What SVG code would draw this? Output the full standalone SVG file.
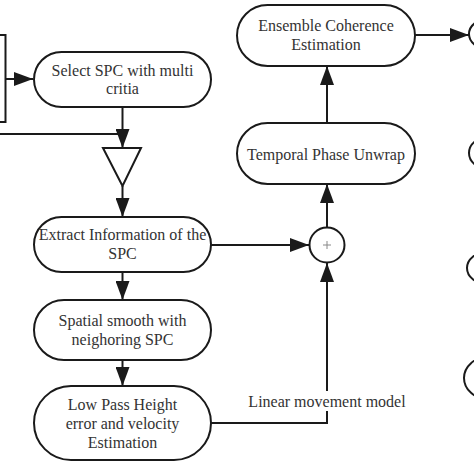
<svg xmlns="http://www.w3.org/2000/svg" width="474" height="474" viewBox="0 0 474 474">
<style>
.n{fill:#fff;stroke:#1a1a1a;stroke-width:2}
.c{fill:none;stroke:#1a1a1a;stroke-width:2}
.t{font-family:"Liberation Serif","Times New Roman",serif;font-size:16px;fill:#333;text-anchor:middle}
</style>
<defs>
<marker id="a" markerUnits="userSpaceOnUse" markerWidth="19" markerHeight="14" refX="19" refY="7" orient="auto">
<path d="M0,0 L19,7 L0,14 z" fill="#1a1a1a"/>
</marker>
</defs>
<rect width="474" height="474" fill="#fff"/>
<g id="connectors">
<path class="c" d="M0,35 H5.5 V122 H0"/>
<path class="c" d="M5.5,79 H33" marker-end="url(#a)"/>
<path class="c" d="M0,134 H122.5"/>
<path class="c" d="M122.5,107 V148" marker-end="url(#a)"/>
<path class="c" d="M122.5,186 V217" marker-end="url(#a)"/>
<path class="c" d="M122.5,272 V300" marker-end="url(#a)"/>
<path class="c" d="M122.5,360 V386" marker-end="url(#a)"/>
<path class="c" d="M211,245 H309" marker-end="url(#a)"/>
<path class="c" d="M211,423 H327 V411"/>
<path class="c" d="M327,391 V263" marker-end="url(#a)"/>
<path class="c" d="M327,227 V184" marker-end="url(#a)"/>
<path class="c" d="M327,123 V66" marker-end="url(#a)"/>
<path class="c" d="M415,35 H469" marker-end="url(#a)"/>
<text class="t" x="327" y="407">Linear movement model</text>
</g>
<g id="select">
<rect class="n" x="34" y="52" width="177" height="55" rx="27.5"/>
<text class="t" x="122.5" y="76">Select SPC with multi</text>
<text class="t" x="122.5" y="94">critia</text>
</g>
<g id="triangle">
<polygon class="n" points="103,148 141,148 122.5,186"/>
</g>
<g id="extract">
<rect class="n" x="34" y="217" width="177" height="55" rx="27.5"/>
<text class="t" x="122.5" y="240">Extract Information of the</text>
<text class="t" x="122.5" y="259">SPC</text>
</g>
<g id="spatial">
<rect class="n" x="34" y="300" width="177" height="60" rx="30"/>
<text class="t" x="122.5" y="326">Spatial smooth with</text>
<text class="t" x="122.5" y="345">neighoring SPC</text>
</g>
<g id="lowpass">
<rect class="n" x="34" y="386" width="177" height="74" rx="37"/>
<text class="t" x="122.5" y="410">Low Pass Height</text>
<text class="t" x="122.5" y="429">error and velocity</text>
<text class="t" x="122.5" y="448">Estimation</text>
</g>
<g id="plus">
<circle class="n" cx="327" cy="245" r="17.5"/>
<path d="M323,245 H331 M327,241 V249" stroke="#888" stroke-width="1"/>
</g>
<g id="temporal">
<rect class="n" x="237" y="123" width="178" height="61" rx="30.5"/>
<text class="t" x="326" y="160">Temporal Phase Unwrap</text>
</g>
<g id="ensemble">
<rect class="n" x="237" y="5" width="178" height="61" rx="30.5"/>
<text class="t" x="326" y="31">Ensemble Coherence</text>
<text class="t" x="326" y="50">Estimation</text>
</g>
<g id="right-nodes">
<ellipse class="n" cx="488" cy="34" rx="19" ry="15"/>
<ellipse class="n" cx="488" cy="153" rx="19" ry="16"/>
<ellipse class="n" cx="487" cy="268" rx="20" ry="16"/>
<ellipse class="n" cx="488" cy="378" rx="24" ry="21"/>
</g>
</svg>
